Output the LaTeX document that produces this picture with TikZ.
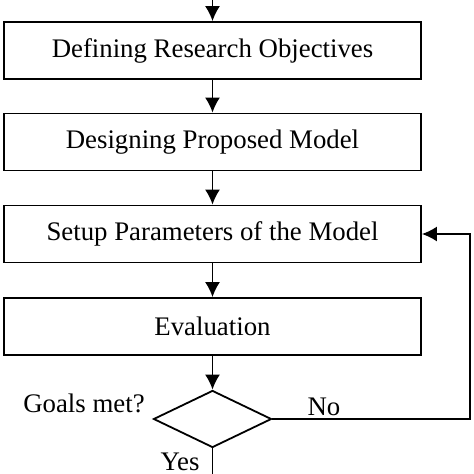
\documentclass[tikz,border=0pt]{standalone}
\usepackage{fontspec}
\setmainfont{Liberation Serif}
\usepackage{tikz}
\usetikzlibrary{arrows.meta}
\usetikzlibrary{shapes.geometric}
\tikzset{>={Latex[length=15pt,width=15pt]}}
\tikzset{stepbox/.style={draw, line width=1.8pt, minimum width=417pt, minimum height=57pt, inner sep=0pt}}
\tikzset{decbox/.style={draw, diamond, line width=1.8pt, minimum width=118pt, minimum height=57pt, inner sep=0pt}}
\tikzset{flow/.style={line width=1.8pt}}

\begin{document}
\begin{tikzpicture}[x=1pt, y=-1pt, font=\fontsize{26.8}{30}\selectfont]
                \useasboundingbox (0,0) rectangle (474,474);

                \node[stepbox] (obj) at (212.5, 50.5) {Defining Research Objectives};
                \node[stepbox] (model) at (212.5, 142) {Designing Proposed Model};
                \node[stepbox] (param) at (212.5, 234) {Setup Parameters of the Model};
                \node[stepbox] (eval) at (212.5, 326.5) {Evaluation};
                \node[decbox] (goal) at (212.5, 419) {};

                \coordinate (top) at (212.5, 0);
                \coordinate (bottom) at (212.5, 474);
                \coordinate (back) at (470, 419);

                % into the first box
                \draw[flow, ->] (top) -- (obj);
                % objectives to model
                \draw[flow, ->] (obj) -- (model);
                % model to parameters
                \draw[flow, ->] (model) -- (param);
                % parameters to evaluation
                \draw[flow, ->] (param) -- (eval);
                % evaluation to decision
                \draw[flow, ->] (eval) -- (goal);
                % yes goes on
                \draw[flow] (goal) -- (bottom);
                % no goes back
                \draw[flow, ->] (goal.east) -- (back) |- (param.east);

                % labels of the decision
                \node (q) at (84, 403) {Goals met?};
                \node (no) at (324, 407) {No};
                \node (yes) at (180, 462) {Yes};
\end{tikzpicture}
\end{document}
